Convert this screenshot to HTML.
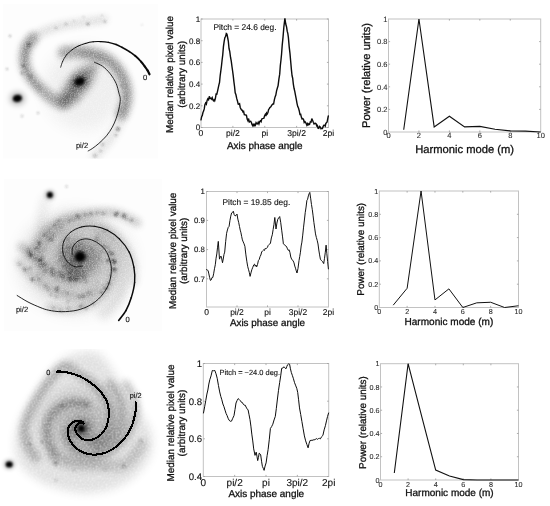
<!DOCTYPE html>
<html lang="en"><head><meta charset="utf-8"><title>Spiral arm pitch analysis</title>
<style>html,body{margin:0;padding:0;background:#fff}svg{display:block}text{font-family:"Liberation Sans", "DejaVu Sans", sans-serif;text-rendering:geometricPrecision;stroke:#151515;stroke-width:.3px;paint-order:stroke fill}text.tick{stroke-width:.12px}text.thin{stroke-width:.08px;fill:#2a2a2a}</style>
</head><body>
<svg width="550" height="506" viewBox="0 0 550 506">
<defs>
<filter id="b05" filterUnits="userSpaceOnUse" x="-20" y="-20" width="200" height="546"><feGaussianBlur stdDeviation="0.5"/></filter>
<filter id="b08" filterUnits="userSpaceOnUse" x="-20" y="-20" width="200" height="546"><feGaussianBlur stdDeviation="0.8"/></filter>
<filter id="b1" filterUnits="userSpaceOnUse" x="-20" y="-20" width="200" height="546"><feGaussianBlur stdDeviation="1"/></filter>
<filter id="b15" filterUnits="userSpaceOnUse" x="-20" y="-20" width="200" height="546"><feGaussianBlur stdDeviation="1.5"/></filter>
<filter id="b2" filterUnits="userSpaceOnUse" x="-20" y="-20" width="200" height="546"><feGaussianBlur stdDeviation="2"/></filter>
<filter id="b3" filterUnits="userSpaceOnUse" x="-20" y="-20" width="200" height="546"><feGaussianBlur stdDeviation="3"/></filter>
<filter id="b4" filterUnits="userSpaceOnUse" x="-20" y="-20" width="200" height="546"><feGaussianBlur stdDeviation="4"/></filter>
<filter id="b5" filterUnits="userSpaceOnUse" x="-20" y="-20" width="200" height="546"><feGaussianBlur stdDeviation="5"/></filter>
<filter id="b6" filterUnits="userSpaceOnUse" x="-20" y="-20" width="200" height="546"><feGaussianBlur stdDeviation="6"/></filter>
<filter id="b8" filterUnits="userSpaceOnUse" x="-20" y="-20" width="200" height="546"><feGaussianBlur stdDeviation="8"/></filter>
<filter id="b10" filterUnits="userSpaceOnUse" x="-20" y="-20" width="200" height="546"><feGaussianBlur stdDeviation="10"/></filter>
<filter id="grain" x="0" y="0" width="165" height="506" filterUnits="userSpaceOnUse"><feTurbulence type="fractalNoise" baseFrequency="0.75" numOctaves="2" seed="4" result="n"/><feColorMatrix in="n" type="matrix" values="0 0 0 0 0 0 0 0 0 0 0 0 0 0 0 0.9 0 0 0 0.45" result="na"/><feComposite in="SourceGraphic" in2="na" operator="in"/></filter>
<filter id="grain3" x="0" y="0" width="165" height="506" filterUnits="userSpaceOnUse"><feTurbulence type="fractalNoise" baseFrequency="0.5" numOctaves="1" seed="9" result="n"/><feColorMatrix in="n" type="matrix" values="0 0 0 0 0 0 0 0 0 0 0 0 0 0 0 0.8 0 0 0 0.5" result="na"/><feComposite in="SourceGraphic" in2="na" operator="in"/></filter>
<clipPath id="c1"><rect x="3" y="4" width="155" height="154.7"/></clipPath>
<clipPath id="c2"><rect x="4" y="179" width="158" height="152.5"/></clipPath>
<clipPath id="c3"><rect x="0" y="349" width="162" height="156"/></clipPath>
</defs>
<rect width="550" height="506" fill="#fff"/>
<g clip-path="url(#c1)">
<rect x="3" y="4" width="155" height="154.7" fill="#000" opacity="0.008"/>
<g filter="url(#grain)">
<ellipse cx="84" cy="88" rx="40" ry="42" fill="#000" filter="url(#b8)" opacity="0.06"/>
<path d="M63.7 104C62.25 103.42 58.12 102.33 55 100.5C51.88 98.67 48.17 95.75 45 93C41.83 90.25 38.83 87.33 36 84C33.17 80.67 29.92 76.67 28 73C26.08 69.33 24.83 66.17 24.5 62C24.17 57.83 24.58 52 26 48C27.42 44 31.83 39.67 33 38" fill="none" stroke="#000" stroke-width="11" stroke-linecap="round" stroke-linejoin="round" filter="url(#b3)" opacity="0.34"/>
<path d="M40 89C38.33 87.17 32.58 82.17 30 78C27.42 73.83 25 69 24.5 64C24 59 26.58 50.67 27 48" fill="none" stroke="#000" stroke-width="5" stroke-linecap="round" stroke-linejoin="round" filter="url(#b2)" opacity="0.16"/>
<path d="M26 48C27.17 46.33 29.83 40.83 33 38C36.17 35.17 40 33.08 45 31C50 28.92 56.17 27 63 25.5C69.83 24 79.17 23 86 22C92.83 21 101 19.92 104 19.5" fill="none" stroke="#000" stroke-width="8" stroke-linecap="round" stroke-linejoin="round" filter="url(#b3)" opacity="0.12"/>
<path d="M63.7 52.5C66.47 52.4 74.37 51.42 80.3 51.9C86.23 52.38 93.53 53.05 99.3 55.4C105.07 57.75 110.68 61.45 114.9 66C119.12 70.55 122.67 77.15 124.6 82.7C126.53 88.25 126.93 94.08 126.5 99.3C126.07 104.52 122.75 111.55 122 114" fill="none" stroke="#000" stroke-width="12" stroke-linecap="round" stroke-linejoin="round" filter="url(#b3)" opacity="0.35"/>
<path d="M99.3 55.4C101.9 57.17 110.68 61.45 114.9 66C119.12 70.55 122.67 77.15 124.6 82.7C126.53 88.25 126.85 94.75 126.5 99.3C126.15 103.85 123.17 108.22 122.5 110" fill="none" stroke="#000" stroke-width="5" stroke-linecap="round" stroke-linejoin="round" filter="url(#b2)" opacity="0.1"/>
<path d="M123 110C122.33 112.33 121 119.5 119 124C117 128.5 113.83 133 111 137C108.17 141 104.67 144.83 102 148C99.33 151.17 96.17 154.67 95 156" fill="none" stroke="#000" stroke-width="10" stroke-linecap="round" stroke-linejoin="round" filter="url(#b3)" opacity="0.09"/>
<path d="M92 70C93 68.67 97.83 64.33 98 62C98.17 59.67 95.67 57.5 93 56C90.33 54.5 83.83 53.5 82 53" fill="none" stroke="#000" stroke-width="7" stroke-linecap="round" stroke-linejoin="round" filter="url(#b3)" opacity="0.15"/>
<ellipse cx="78.5" cy="84" rx="24" ry="10" fill="#000" filter="url(#b4)" opacity="0.42" transform="rotate(-51 78.5 84)"/>
<ellipse cx="68" cy="98" rx="11" ry="7.5" fill="#000" filter="url(#b4)" opacity="0.3" transform="rotate(-25 68 98)"/>
<ellipse cx="79.6" cy="81.6" rx="10" ry="7.5" fill="#000" filter="url(#b3)" opacity="0.42" transform="rotate(-35 79.6 81.6)"/>
<ellipse cx="29" cy="44.5" rx="2.2" ry="2.2" fill="#000" filter="url(#b08)" opacity="0.4"/>
<ellipse cx="23" cy="66" rx="1.8" ry="1.8" fill="#000" filter="url(#b08)" opacity="0.3"/>
<ellipse cx="22" cy="73" rx="1.6" ry="1.6" fill="#000" filter="url(#b08)" opacity="0.3"/>
<ellipse cx="31" cy="76" rx="1.6" ry="1.6" fill="#000" filter="url(#b08)" opacity="0.3"/>
<ellipse cx="88" cy="24" rx="1.6" ry="1.6" fill="#000" filter="url(#b08)" opacity="0.4"/>
<ellipse cx="66" cy="24" rx="1.3" ry="1.3" fill="#000" filter="url(#b08)" opacity="0.3"/>
<ellipse cx="56" cy="28" rx="1.2" ry="1.2" fill="#000" filter="url(#b08)" opacity="0.25"/>
<ellipse cx="105" cy="21.6" rx="1.3" ry="1.3" fill="#000" filter="url(#b08)" opacity="0.3"/>
<ellipse cx="83.5" cy="17" rx="1.1" ry="1.1" fill="#000" filter="url(#b08)" opacity="0.22"/>
<ellipse cx="102" cy="15.5" rx="1" ry="1" fill="#000" filter="url(#b08)" opacity="0.2"/>
<ellipse cx="142" cy="24.7" rx="1" ry="1" fill="#000" filter="url(#b08)" opacity="0.15"/>
<ellipse cx="10" cy="36" rx="1.3" ry="1.3" fill="#000" filter="url(#b08)" opacity="0.3"/>
<ellipse cx="7" cy="69" rx="1.2" ry="1.2" fill="#000" filter="url(#b08)" opacity="0.3"/>
<ellipse cx="118" cy="129" rx="2.2" ry="2.2" fill="#000" filter="url(#b08)" opacity="0.4"/>
<ellipse cx="116" cy="135" rx="1.6" ry="1.6" fill="#000" filter="url(#b08)" opacity="0.25"/>
<ellipse cx="38" cy="113" rx="1.3" ry="1.3" fill="#000" filter="url(#b08)" opacity="0.25"/>
<ellipse cx="22" cy="116" rx="1.5" ry="1.5" fill="#000" filter="url(#b08)" opacity="0.2"/>
<ellipse cx="122" cy="86" rx="1.5" ry="1.5" fill="#000" filter="url(#b08)" opacity="0.2"/>
<ellipse cx="126" cy="97" rx="1.5" ry="1.5" fill="#000" filter="url(#b08)" opacity="0.2"/>
<ellipse cx="102.7" cy="144.4" rx="1.8" ry="1.8" fill="#000" filter="url(#b08)" opacity="0.22"/>
<ellipse cx="100.8" cy="151" rx="1.6" ry="1.6" fill="#000" filter="url(#b08)" opacity="0.2"/>
<ellipse cx="95" cy="155.8" rx="2" ry="2" fill="#000" filter="url(#b08)" opacity="0.22"/>
<ellipse cx="74" cy="21" rx="1" ry="1" fill="#000" filter="url(#b08)" opacity="0.2"/>
</g>
<ellipse cx="79.6" cy="81.4" rx="6" ry="4.3" fill="#000" filter="url(#b15)" opacity="0.55" transform="rotate(-25 79.6 81.4)"/>
<ellipse cx="79.6" cy="81.4" rx="4.2" ry="3" fill="#000" filter="url(#b08)" opacity="1" transform="rotate(-20 79.6 81.4)"/>
<ellipse cx="17.4" cy="98.4" rx="7" ry="6" fill="#000" filter="url(#b3)" opacity="0.35"/>
<ellipse cx="17.4" cy="98.4" rx="4.6" ry="3.6" fill="#000" filter="url(#b08)" opacity="1" transform="rotate(-10 17.4 98.4)"/>
</g>
<path d="M60.7 67.2C61.02 66.25 61.63 63.57 62.6 61.5" fill="none" stroke="#0a0a0a" stroke-width="0.81" stroke-linecap="round"/>
<path d="M62.6 61.5C63.57 59.43 64.9 56.77 66.5 54.8" fill="none" stroke="#0a0a0a" stroke-width="0.83" stroke-linecap="round"/>
<path d="M66.5 54.8C68.1 52.83 70.3 51.13 72.2 49.7" fill="none" stroke="#0a0a0a" stroke-width="0.88" stroke-linecap="round"/>
<path d="M72.2 49.7C74.1 48.27 75.68 47.25 77.9 46.2" fill="none" stroke="#0a0a0a" stroke-width="0.93" stroke-linecap="round"/>
<path d="M77.9 46.2C80.12 45.15 82.95 44.13 85.5 43.4" fill="none" stroke="#0a0a0a" stroke-width="1" stroke-linecap="round"/>
<path d="M85.5 43.4C88.05 42.67 90.65 42.1 93.2 41.8" fill="none" stroke="#0a0a0a" stroke-width="1.07" stroke-linecap="round"/>
<path d="M93.2 41.8C95.75 41.5 98.27 41.5 100.8 41.6" fill="none" stroke="#0a0a0a" stroke-width="1.15" stroke-linecap="round"/>
<path d="M100.8 41.6C103.33 41.7 105.85 41.92 108.4 42.4" fill="none" stroke="#0a0a0a" stroke-width="1.25" stroke-linecap="round"/>
<path d="M108.4 42.4C110.95 42.88 113.87 43.7 116.1 44.5" fill="none" stroke="#0a0a0a" stroke-width="1.35" stroke-linecap="round"/>
<path d="M116.1 44.5C118.33 45.3 119.58 46.02 121.8 47.2" fill="none" stroke="#0a0a0a" stroke-width="1.45" stroke-linecap="round"/>
<path d="M121.8 47.2C124.02 48.38 127.17 50.17 129.4 51.6" fill="none" stroke="#0a0a0a" stroke-width="1.56" stroke-linecap="round"/>
<path d="M129.4 51.6C131.63 53.03 133.28 54.15 135.2 55.8" fill="none" stroke="#0a0a0a" stroke-width="1.68" stroke-linecap="round"/>
<path d="M135.2 55.8C137.12 57.45 139.32 59.75 140.9 61.5" fill="none" stroke="#0a0a0a" stroke-width="1.81" stroke-linecap="round"/>
<path d="M140.9 61.5C142.48 63.25 143.58 64.8 144.7 66.3" fill="none" stroke="#0a0a0a" stroke-width="1.94" stroke-linecap="round"/>
<path d="M144.7 66.3C145.82 67.8 146.8 69.17 147.6 70.5" fill="none" stroke="#0a0a0a" stroke-width="2.08" stroke-linecap="round"/>
<path d="M147.6 70.5C148.4 71.83 149.18 73.67 149.5 74.3" fill="none" stroke="#0a0a0a" stroke-width="2.23" stroke-linecap="round"/>
<path d="M94.1 62.1C95.53 62.8 100 64.33 102.7 66.3C105.4 68.27 108.07 71.05 110.3 73.9C112.53 76.75 114.67 80.22 116.1 83.4C117.53 86.58 118.2 90.32 118.9 93C119.6 95.68 120.3 96.82 120.3 99.5C120.3 102.18 119.6 105.92 118.9 109.1C118.2 112.28 117.2 115.58 116.1 118.6C115 121.62 113.9 124.33 112.3 127.2C110.7 130.07 108.73 133.1 106.5 135.8C104.27 138.5 101.28 141.27 98.9 143.4C96.52 145.53 94.05 147.32 92.2 148.6C90.35 149.88 88.53 150.68 87.8 151.1" fill="none" stroke="#141414" stroke-width="0.9" stroke-linecap="butt"/>
<text x="145.2" y="80.2" font-size="7.6" text-anchor="middle" fill="#101010" class="tick">0</text>
<text x="82" y="147.8" font-size="7.6" text-anchor="middle" fill="#101010" class="tick">pi/2</text>
<g clip-path="url(#c2)">
<rect x="4" y="179" width="158" height="152.5" fill="#000" opacity="0.007"/>
<g filter="url(#grain)">
<ellipse cx="76" cy="262" rx="58" ry="52" fill="#000" filter="url(#b8)" opacity="0.09"/>
<ellipse cx="75" cy="257" rx="46" ry="44" fill="#000" filter="url(#b6)" opacity="0.11"/>
<ellipse cx="43.18" cy="275.94" rx="1.96" ry="1.8" fill="#000" filter="url(#b1)" opacity="0.12" transform="rotate(121 43.18 275.94)"/>
<ellipse cx="102.32" cy="261.05" rx="1.81" ry="1.5" fill="#000" filter="url(#b1)" opacity="0.08" transform="rotate(94 102.32 261.05)"/>
<ellipse cx="113.82" cy="253.97" rx="1.37" ry="1.39" fill="#000" filter="url(#b1)" opacity="0.24" transform="rotate(10 113.82 253.97)"/>
<ellipse cx="68.19" cy="301.61" rx="2.12" ry="1.9" fill="#000" filter="url(#b1)" opacity="0.16" transform="rotate(84 68.19 301.61)"/>
<ellipse cx="77.69" cy="276.29" rx="1.98" ry="2.13" fill="#000" filter="url(#b1)" opacity="0.08" transform="rotate(22 77.69 276.29)"/>
<ellipse cx="69.69" cy="264.37" rx="1.61" ry="1.48" fill="#000" filter="url(#b1)" opacity="0.11" transform="rotate(9 69.69 264.37)"/>
<ellipse cx="71.23" cy="286.89" rx="1.29" ry="1.06" fill="#000" filter="url(#b1)" opacity="0.19" transform="rotate(168 71.23 286.89)"/>
<ellipse cx="97.44" cy="282.07" rx="1.9" ry="1.91" fill="#000" filter="url(#b1)" opacity="0.1" transform="rotate(121 97.44 282.07)"/>
<ellipse cx="79.42" cy="250.59" rx="1.61" ry="1.29" fill="#000" filter="url(#b1)" opacity="0.17" transform="rotate(74 79.42 250.59)"/>
<ellipse cx="61.6" cy="255.91" rx="1.66" ry="1.83" fill="#000" filter="url(#b1)" opacity="0.15" transform="rotate(6 61.6 255.91)"/>
<ellipse cx="104.74" cy="231.35" rx="2.06" ry="2.25" fill="#000" filter="url(#b1)" opacity="0.08" transform="rotate(17 104.74 231.35)"/>
<ellipse cx="78.64" cy="280.85" rx="1.47" ry="1.41" fill="#000" filter="url(#b1)" opacity="0.17" transform="rotate(159 78.64 280.85)"/>
<ellipse cx="38.37" cy="274.25" rx="1.95" ry="2.03" fill="#000" filter="url(#b1)" opacity="0.14" transform="rotate(152 38.37 274.25)"/>
<ellipse cx="113.53" cy="238.64" rx="1.4" ry="1.5" fill="#000" filter="url(#b1)" opacity="0.11" transform="rotate(109 113.53 238.64)"/>
<ellipse cx="62.49" cy="275.4" rx="2.01" ry="2.14" fill="#000" filter="url(#b1)" opacity="0.24" transform="rotate(104 62.49 275.4)"/>
<ellipse cx="59.89" cy="260.52" rx="2" ry="2.16" fill="#000" filter="url(#b1)" opacity="0.12" transform="rotate(143 59.89 260.52)"/>
<ellipse cx="99.2" cy="258.59" rx="2.2" ry="1.69" fill="#000" filter="url(#b1)" opacity="0.12" transform="rotate(74 99.2 258.59)"/>
<ellipse cx="64.3" cy="291.11" rx="1.97" ry="1.58" fill="#000" filter="url(#b1)" opacity="0.11" transform="rotate(122 64.3 291.11)"/>
<ellipse cx="87.82" cy="294.56" rx="1.77" ry="1.92" fill="#000" filter="url(#b1)" opacity="0.23" transform="rotate(93 87.82 294.56)"/>
<ellipse cx="101.16" cy="292.04" rx="1.92" ry="1.73" fill="#000" filter="url(#b1)" opacity="0.18" transform="rotate(122 101.16 292.04)"/>
<ellipse cx="56.33" cy="262.88" rx="1.53" ry="1.56" fill="#000" filter="url(#b1)" opacity="0.08" transform="rotate(32 56.33 262.88)"/>
<ellipse cx="82.62" cy="272.08" rx="2.22" ry="2.12" fill="#000" filter="url(#b1)" opacity="0.12" transform="rotate(103 82.62 272.08)"/>
<ellipse cx="97.15" cy="286.22" rx="1.37" ry="1.09" fill="#000" filter="url(#b1)" opacity="0.15" transform="rotate(47 97.15 286.22)"/>
<ellipse cx="30.33" cy="255.54" rx="1.37" ry="1.44" fill="#000" filter="url(#b1)" opacity="0.19" transform="rotate(32 30.33 255.54)"/>
<ellipse cx="55.97" cy="297.14" rx="1.68" ry="1.78" fill="#000" filter="url(#b1)" opacity="0.19" transform="rotate(46 55.97 297.14)"/>
<ellipse cx="44.92" cy="249.74" rx="2.05" ry="1.93" fill="#000" filter="url(#b1)" opacity="0.09" transform="rotate(129 44.92 249.74)"/>
<ellipse cx="108.4" cy="283.04" rx="2.15" ry="1.62" fill="#000" filter="url(#b1)" opacity="0.16" transform="rotate(16 108.4 283.04)"/>
<ellipse cx="64.61" cy="265.62" rx="2.23" ry="1.85" fill="#000" filter="url(#b1)" opacity="0.24" transform="rotate(154 64.61 265.62)"/>
<ellipse cx="56.85" cy="221.52" rx="1.67" ry="1.43" fill="#000" filter="url(#b1)" opacity="0.23" transform="rotate(75 56.85 221.52)"/>
<ellipse cx="103.22" cy="285.46" rx="1.79" ry="1.7" fill="#000" filter="url(#b1)" opacity="0.17" transform="rotate(15 103.22 285.46)"/>
<ellipse cx="74.76" cy="279.7" rx="2.36" ry="2.03" fill="#000" filter="url(#b1)" opacity="0.2" transform="rotate(134 74.76 279.7)"/>
<ellipse cx="97.72" cy="233.92" rx="1.94" ry="1.68" fill="#000" filter="url(#b1)" opacity="0.11" transform="rotate(16 97.72 233.92)"/>
<ellipse cx="97.91" cy="255.64" rx="1.95" ry="1.47" fill="#000" filter="url(#b1)" opacity="0.19" transform="rotate(113 97.91 255.64)"/>
<ellipse cx="71.32" cy="261.09" rx="2.25" ry="1.74" fill="#000" filter="url(#b1)" opacity="0.08" transform="rotate(169 71.32 261.09)"/>
<ellipse cx="67.92" cy="238.75" rx="2.05" ry="2.12" fill="#000" filter="url(#b1)" opacity="0.2" transform="rotate(116 67.92 238.75)"/>
<ellipse cx="101.38" cy="251.51" rx="1.59" ry="1.32" fill="#000" filter="url(#b1)" opacity="0.24" transform="rotate(167 101.38 251.51)"/>
<ellipse cx="35.86" cy="258.3" rx="1.79" ry="1.79" fill="#000" filter="url(#b1)" opacity="0.23" transform="rotate(115 35.86 258.3)"/>
<ellipse cx="85.67" cy="281.72" rx="2" ry="2.1" fill="#000" filter="url(#b1)" opacity="0.2" transform="rotate(67 85.67 281.72)"/>
<ellipse cx="50.57" cy="295" rx="1.66" ry="1.61" fill="#000" filter="url(#b1)" opacity="0.22" transform="rotate(1 50.57 295)"/>
<ellipse cx="42.89" cy="234.97" rx="2.25" ry="2.25" fill="#000" filter="url(#b1)" opacity="0.1" transform="rotate(44 42.89 234.97)"/>
<ellipse cx="68.9" cy="247.38" rx="1.85" ry="1.61" fill="#000" filter="url(#b1)" opacity="0.33" transform="rotate(59 68.9 247.38)"/>
<ellipse cx="80.66" cy="264.53" rx="1.63" ry="1.73" fill="#000" filter="url(#b1)" opacity="0.27" transform="rotate(5 80.66 264.53)"/>
<ellipse cx="81.87" cy="252.7" rx="1.39" ry="1.46" fill="#000" filter="url(#b1)" opacity="0.27" transform="rotate(144 81.87 252.7)"/>
<ellipse cx="64.96" cy="253.14" rx="1.53" ry="1.25" fill="#000" filter="url(#b1)" opacity="0.23" transform="rotate(166 64.96 253.14)"/>
<ellipse cx="79.49" cy="251.83" rx="1.47" ry="1.46" fill="#000" filter="url(#b1)" opacity="0.24" transform="rotate(87 79.49 251.83)"/>
<ellipse cx="80.02" cy="244.9" rx="2.13" ry="1.97" fill="#000" filter="url(#b1)" opacity="0.25" transform="rotate(104 80.02 244.9)"/>
<ellipse cx="75.71" cy="269.89" rx="1.38" ry="1.31" fill="#000" filter="url(#b1)" opacity="0.23" transform="rotate(6 75.71 269.89)"/>
<ellipse cx="72.51" cy="260.68" rx="1.74" ry="1.57" fill="#000" filter="url(#b1)" opacity="0.28" transform="rotate(135 72.51 260.68)"/>
<ellipse cx="76.67" cy="246.54" rx="1.64" ry="1.29" fill="#000" filter="url(#b1)" opacity="0.31" transform="rotate(14 76.67 246.54)"/>
<ellipse cx="79.38" cy="255.22" rx="1.3" ry="1.38" fill="#000" filter="url(#b1)" opacity="0.18" transform="rotate(139 79.38 255.22)"/>
<ellipse cx="75.04" cy="249.01" rx="2.11" ry="2.05" fill="#000" filter="url(#b1)" opacity="0.24" transform="rotate(16 75.04 249.01)"/>
<ellipse cx="80.13" cy="266.29" rx="1.85" ry="1.52" fill="#000" filter="url(#b1)" opacity="0.29" transform="rotate(13 80.13 266.29)"/>
<ellipse cx="79" cy="258" rx="20" ry="18" fill="#000" filter="url(#b4)" opacity="0.3"/>
<ellipse cx="77" cy="260" rx="30" ry="27" fill="#000" filter="url(#b5)" opacity="0.1"/>
<ellipse cx="73" cy="271" rx="10" ry="7" fill="#000" filter="url(#b3)" opacity="0.26" transform="rotate(30 73 271)"/>
<path d="M137.2 223C135.93 222.28 133.05 220.33 129.6 218.7C126.15 217.07 121.58 214.28 116.5 213.2C111.42 212.12 104.9 211.83 99.1 212.2C93.3 212.57 87.13 214.13 81.7 215.4C76.27 216.67 70.7 218.25 66.5 219.8C62.3 221.35 59.97 222.62 56.5 224.7C53.03 226.78 48.95 229.22 45.7 232.3C42.45 235.38 39.55 239.57 37 243.2C34.45 246.83 31.5 252.28 30.4 254.1" fill="none" stroke="#000" stroke-width="8" stroke-linecap="round" stroke-linejoin="round" filter="url(#b3)" opacity="0.22"/>
<ellipse cx="131.35" cy="220.34" rx="1.91" ry="1.82" fill="#000" filter="url(#b1)" opacity="0.3" transform="rotate(47 131.35 220.34)"/>
<ellipse cx="126.54" cy="218.82" rx="1.54" ry="1.23" fill="#000" filter="url(#b1)" opacity="0.29" transform="rotate(137 126.54 218.82)"/>
<ellipse cx="123.98" cy="215.93" rx="2.58" ry="2.52" fill="#000" filter="url(#b1)" opacity="0.41" transform="rotate(157 123.98 215.93)"/>
<ellipse cx="117.7" cy="212.35" rx="1.38" ry="1.46" fill="#000" filter="url(#b1)" opacity="0.19" transform="rotate(153 117.7 212.35)"/>
<ellipse cx="116.42" cy="214.4" rx="2.4" ry="2.33" fill="#000" filter="url(#b1)" opacity="0.3" transform="rotate(127 116.42 214.4)"/>
<ellipse cx="115.66" cy="214.36" rx="1.83" ry="1.97" fill="#000" filter="url(#b1)" opacity="0.31" transform="rotate(21 115.66 214.36)"/>
<ellipse cx="104.03" cy="213.71" rx="1.68" ry="1.71" fill="#000" filter="url(#b1)" opacity="0.2" transform="rotate(102 104.03 213.71)"/>
<ellipse cx="102.3" cy="213.04" rx="1.32" ry="1.09" fill="#000" filter="url(#b1)" opacity="0.34" transform="rotate(13 102.3 213.04)"/>
<ellipse cx="97.24" cy="212.65" rx="1.39" ry="1.43" fill="#000" filter="url(#b1)" opacity="0.33" transform="rotate(69 97.24 212.65)"/>
<ellipse cx="90.89" cy="213.98" rx="1.83" ry="1.46" fill="#000" filter="url(#b1)" opacity="0.4" transform="rotate(25 90.89 213.98)"/>
<ellipse cx="85.53" cy="214.78" rx="2.19" ry="2.03" fill="#000" filter="url(#b1)" opacity="0.23" transform="rotate(33 85.53 214.78)"/>
<ellipse cx="79.04" cy="216.99" rx="2.59" ry="2.72" fill="#000" filter="url(#b1)" opacity="0.18" transform="rotate(151 79.04 216.99)"/>
<ellipse cx="76.88" cy="216.24" rx="1.81" ry="1.77" fill="#000" filter="url(#b1)" opacity="0.39" transform="rotate(25 76.88 216.24)"/>
<ellipse cx="73.44" cy="219.68" rx="1.31" ry="1.37" fill="#000" filter="url(#b1)" opacity="0.33" transform="rotate(98 73.44 219.68)"/>
<ellipse cx="69.12" cy="220.9" rx="1.62" ry="1.42" fill="#000" filter="url(#b1)" opacity="0.32" transform="rotate(116 69.12 220.9)"/>
<ellipse cx="59.24" cy="220.16" rx="1.48" ry="1.43" fill="#000" filter="url(#b1)" opacity="0.27" transform="rotate(79 59.24 220.16)"/>
<ellipse cx="54.62" cy="225.18" rx="1.55" ry="1.67" fill="#000" filter="url(#b1)" opacity="0.36" transform="rotate(50 54.62 225.18)"/>
<ellipse cx="49.17" cy="230.08" rx="1.4" ry="1.11" fill="#000" filter="url(#b1)" opacity="0.19" transform="rotate(131 49.17 230.08)"/>
<ellipse cx="45.61" cy="235.47" rx="1.63" ry="1.57" fill="#000" filter="url(#b1)" opacity="0.38" transform="rotate(75 45.61 235.47)"/>
<ellipse cx="48.06" cy="232.81" rx="1.46" ry="1.43" fill="#000" filter="url(#b1)" opacity="0.3" transform="rotate(157 48.06 232.81)"/>
<ellipse cx="39.29" cy="243.33" rx="1.57" ry="1.32" fill="#000" filter="url(#b1)" opacity="0.18" transform="rotate(114 39.29 243.33)"/>
<ellipse cx="39.39" cy="242.39" rx="1.99" ry="1.56" fill="#000" filter="url(#b1)" opacity="0.41" transform="rotate(35 39.39 242.39)"/>
<ellipse cx="36" cy="248.84" rx="2.2" ry="1.76" fill="#000" filter="url(#b1)" opacity="0.32" transform="rotate(8 36 248.84)"/>
<ellipse cx="28.93" cy="254.03" rx="1.71" ry="1.64" fill="#000" filter="url(#b1)" opacity="0.19" transform="rotate(19 28.93 254.03)"/>
<path d="M63 228C61.2 229.45 55.45 233.43 52.2 236.7C48.95 239.97 45.68 243.62 43.5 247.6C41.32 251.58 39.1 256.62 39.1 260.6C39.1 264.58 42.77 269.68 43.5 271.5" fill="none" stroke="#000" stroke-width="7" stroke-linecap="round" stroke-linejoin="round" filter="url(#b3)" opacity="0.18"/>
<ellipse cx="59.74" cy="227.21" rx="1.47" ry="1.3" fill="#000" filter="url(#b1)" opacity="0.18" transform="rotate(70 59.74 227.21)"/>
<ellipse cx="53.31" cy="233.88" rx="1.57" ry="1.52" fill="#000" filter="url(#b1)" opacity="0.18" transform="rotate(112 53.31 233.88)"/>
<ellipse cx="53.41" cy="236.24" rx="1.99" ry="1.85" fill="#000" filter="url(#b1)" opacity="0.22" transform="rotate(86 53.41 236.24)"/>
<ellipse cx="49.95" cy="239.07" rx="2.4" ry="2.36" fill="#000" filter="url(#b1)" opacity="0.36" transform="rotate(57 49.95 239.07)"/>
<ellipse cx="52.83" cy="241" rx="1.44" ry="1.14" fill="#000" filter="url(#b1)" opacity="0.27" transform="rotate(80 52.83 241)"/>
<ellipse cx="38.69" cy="246.49" rx="2.36" ry="2.19" fill="#000" filter="url(#b1)" opacity="0.3" transform="rotate(21 38.69 246.49)"/>
<ellipse cx="40.36" cy="251.81" rx="1.87" ry="1.42" fill="#000" filter="url(#b1)" opacity="0.26" transform="rotate(21 40.36 251.81)"/>
<ellipse cx="42.67" cy="257.42" rx="1.73" ry="1.71" fill="#000" filter="url(#b1)" opacity="0.26" transform="rotate(79 42.67 257.42)"/>
<ellipse cx="39.98" cy="260.19" rx="1.91" ry="1.77" fill="#000" filter="url(#b1)" opacity="0.36" transform="rotate(7 39.98 260.19)"/>
<ellipse cx="40.86" cy="263.87" rx="1.33" ry="1.02" fill="#000" filter="url(#b1)" opacity="0.33" transform="rotate(52 40.86 263.87)"/>
<ellipse cx="44.9" cy="271.84" rx="1.51" ry="1.15" fill="#000" filter="url(#b1)" opacity="0.33" transform="rotate(70 44.9 271.84)"/>
<path d="M74.8 266.7C73.53 265.87 69.2 264.15 67.2 261.7C65.2 259.25 63.35 255.43 62.8 252C62.25 248.57 62.63 244.37 63.9 241.1C65.17 237.83 67.5 234.75 70.4 232.4C73.3 230.05 77.32 228.02 81.3 227C85.28 225.98 89.95 225.77 94.3 226.3C98.65 226.83 103.23 228.1 107.4 230.2C111.57 232.3 115.68 235.27 119.3 238.9C122.92 242.53 126.67 247.28 129.1 252C131.53 256.72 132.98 262.13 133.9 267.2C134.82 272.27 134.48 279.87 134.6 282.4" fill="none" stroke="#000" stroke-width="6" stroke-linecap="round" stroke-linejoin="round" filter="url(#b3)" opacity="0.13"/>
<path d="M96.5 240C97.95 241.3 102.78 244.97 105.2 247.8C107.62 250.63 109.65 253.63 111 257C112.35 260.37 113.38 263.83 113.3 268C113.22 272.17 112.23 277.58 110.5 282C108.77 286.42 105.98 290.97 102.9 294.5C99.82 298.03 95.98 300.92 92 303.2C88.02 305.48 83.72 307.12 79 308.2C74.28 309.28 68.75 309.87 63.7 309.7C58.65 309.53 51.2 307.62 48.7 307.2" fill="none" stroke="#000" stroke-width="7" stroke-linecap="round" stroke-linejoin="round" filter="url(#b3)" opacity="0.18"/>
<ellipse cx="96.7" cy="238.89" rx="2.23" ry="1.86" fill="#000" filter="url(#b1)" opacity="0.27" transform="rotate(37 96.7 238.89)"/>
<ellipse cx="103.82" cy="246.36" rx="1.38" ry="1.39" fill="#000" filter="url(#b1)" opacity="0.44" transform="rotate(7 103.82 246.36)"/>
<ellipse cx="107.44" cy="247.89" rx="1.32" ry="1.05" fill="#000" filter="url(#b1)" opacity="0.29" transform="rotate(67 107.44 247.89)"/>
<ellipse cx="110.48" cy="252.71" rx="2.17" ry="2.28" fill="#000" filter="url(#b1)" opacity="0.29" transform="rotate(124 110.48 252.71)"/>
<ellipse cx="108.07" cy="260.95" rx="2.04" ry="1.98" fill="#000" filter="url(#b1)" opacity="0.45" transform="rotate(167 108.07 260.95)"/>
<ellipse cx="113.49" cy="261.04" rx="2.38" ry="2.25" fill="#000" filter="url(#b1)" opacity="0.4" transform="rotate(34 113.49 261.04)"/>
<ellipse cx="112.48" cy="269.02" rx="1.62" ry="1.42" fill="#000" filter="url(#b1)" opacity="0.27" transform="rotate(95 112.48 269.02)"/>
<ellipse cx="110.4" cy="275.63" rx="1.44" ry="1.2" fill="#000" filter="url(#b1)" opacity="0.35" transform="rotate(60 110.4 275.63)"/>
<ellipse cx="108.92" cy="283.45" rx="1.77" ry="1.62" fill="#000" filter="url(#b1)" opacity="0.38"/>
<ellipse cx="107.1" cy="288.08" rx="1.46" ry="1.52" fill="#000" filter="url(#b1)" opacity="0.43" transform="rotate(163 107.1 288.08)"/>
<ellipse cx="104.85" cy="288.43" rx="1.58" ry="1.38" fill="#000" filter="url(#b1)" opacity="0.42" transform="rotate(161 104.85 288.43)"/>
<ellipse cx="101.5" cy="292.15" rx="2.33" ry="1.96" fill="#000" filter="url(#b1)" opacity="0.16" transform="rotate(18 101.5 292.15)"/>
<ellipse cx="93.49" cy="304.09" rx="1.74" ry="1.37" fill="#000" filter="url(#b1)" opacity="0.24" transform="rotate(57 93.49 304.09)"/>
<ellipse cx="86.16" cy="308.21" rx="1.7" ry="1.58" fill="#000" filter="url(#b1)" opacity="0.22" transform="rotate(41 86.16 308.21)"/>
<ellipse cx="82.87" cy="305.44" rx="2.02" ry="1.75" fill="#000" filter="url(#b1)" opacity="0.14" transform="rotate(21 82.87 305.44)"/>
<ellipse cx="80.3" cy="306.6" rx="1.94" ry="2.07" fill="#000" filter="url(#b1)" opacity="0.27" transform="rotate(24 80.3 306.6)"/>
<ellipse cx="68.41" cy="308.3" rx="1.95" ry="1.58" fill="#000" filter="url(#b1)" opacity="0.22" transform="rotate(24 68.41 308.3)"/>
<ellipse cx="60.16" cy="309.86" rx="1.6" ry="1.47" fill="#000" filter="url(#b1)" opacity="0.22" transform="rotate(72 60.16 309.86)"/>
<ellipse cx="61.26" cy="311.02" rx="1.4" ry="1.06" fill="#000" filter="url(#b1)" opacity="0.16" transform="rotate(105 61.26 311.02)"/>
<ellipse cx="53.51" cy="308" rx="1.83" ry="1.71" fill="#000" filter="url(#b1)" opacity="0.23" transform="rotate(116 53.51 308)"/>
<path d="M21.7 246.7C24.6 249.25 33.3 257.28 39.1 262C44.9 266.72 51.07 272.12 56.5 275C61.93 277.88 67.35 279.3 71.7 279.3C76.05 279.3 80.78 275.72 82.6 275" fill="none" stroke="#000" stroke-width="8" stroke-linecap="round" stroke-linejoin="round" filter="url(#b3)" opacity="0.24"/>
<ellipse cx="28.13" cy="249.99" rx="1.51" ry="1.14" fill="#000" filter="url(#b1)" opacity="0.45" transform="rotate(37 28.13 249.99)"/>
<ellipse cx="29.77" cy="252.62" rx="1.74" ry="1.48" fill="#000" filter="url(#b1)" opacity="0.38" transform="rotate(67 29.77 252.62)"/>
<ellipse cx="31.32" cy="253.69" rx="1.76" ry="1.51" fill="#000" filter="url(#b1)" opacity="0.28" transform="rotate(130 31.32 253.69)"/>
<ellipse cx="31.05" cy="255.99" rx="1.94" ry="1.99" fill="#000" filter="url(#b1)" opacity="0.32" transform="rotate(112 31.05 255.99)"/>
<ellipse cx="40.61" cy="260.16" rx="1.83" ry="2.01" fill="#000" filter="url(#b1)" opacity="0.42" transform="rotate(125 40.61 260.16)"/>
<ellipse cx="44.21" cy="264.34" rx="1.99" ry="2.04" fill="#000" filter="url(#b1)" opacity="0.35" transform="rotate(4 44.21 264.34)"/>
<ellipse cx="41.09" cy="266.41" rx="1.43" ry="1.1" fill="#000" filter="url(#b1)" opacity="0.23" transform="rotate(119 41.09 266.41)"/>
<ellipse cx="51.74" cy="269.74" rx="2.5" ry="2.35" fill="#000" filter="url(#b1)" opacity="0.26" transform="rotate(128 51.74 269.74)"/>
<ellipse cx="52.99" cy="273.81" rx="2.37" ry="2.53" fill="#000" filter="url(#b1)" opacity="0.28" transform="rotate(86 52.99 273.81)"/>
<ellipse cx="59.75" cy="272.78" rx="2.39" ry="1.91" fill="#000" filter="url(#b1)" opacity="0.27" transform="rotate(126 59.75 272.78)"/>
<ellipse cx="62.95" cy="276.57" rx="2.56" ry="1.98" fill="#000" filter="url(#b1)" opacity="0.22" transform="rotate(115 62.95 276.57)"/>
<ellipse cx="69.54" cy="278.05" rx="1.95" ry="2.13" fill="#000" filter="url(#b1)" opacity="0.32" transform="rotate(11 69.54 278.05)"/>
<ellipse cx="70.63" cy="279.32" rx="2.55" ry="2.58" fill="#000" filter="url(#b1)" opacity="0.26" transform="rotate(114 70.63 279.32)"/>
<ellipse cx="76.7" cy="278.07" rx="1.31" ry="1.28" fill="#000" filter="url(#b1)" opacity="0.28" transform="rotate(97 76.7 278.07)"/>
<ellipse cx="84.01" cy="277.45" rx="1.69" ry="1.59" fill="#000" filter="url(#b1)" opacity="0.31" transform="rotate(7 84.01 277.45)"/>
<path d="M19.6 262C21.77 264.53 27.53 272.87 32.6 277.2C37.67 281.53 44.57 285.1 50 288C55.43 290.9 59.77 293.15 65.2 294.6C70.63 296.05 77.52 297.43 82.6 296.7C87.68 295.97 93.52 291.28 95.7 290.2" fill="none" stroke="#000" stroke-width="8" stroke-linecap="round" stroke-linejoin="round" filter="url(#b3)" opacity="0.16"/>
<ellipse cx="19.04" cy="264" rx="1.84" ry="1.8" fill="#000" filter="url(#b1)" opacity="0.24" transform="rotate(66 19.04 264)"/>
<ellipse cx="25.02" cy="269.65" rx="2.28" ry="2.47" fill="#000" filter="url(#b1)" opacity="0.29" transform="rotate(154 25.02 269.65)"/>
<ellipse cx="30.39" cy="268.33" rx="1.6" ry="1.66" fill="#000" filter="url(#b1)" opacity="0.34" transform="rotate(170 30.39 268.33)"/>
<ellipse cx="32.63" cy="279.45" rx="2.14" ry="2.2" fill="#000" filter="url(#b1)" opacity="0.36" transform="rotate(92 32.63 279.45)"/>
<ellipse cx="39.09" cy="279.16" rx="1.81" ry="1.96" fill="#000" filter="url(#b1)" opacity="0.29" transform="rotate(75 39.09 279.16)"/>
<ellipse cx="45.64" cy="286.22" rx="2.5" ry="2.2" fill="#000" filter="url(#b1)" opacity="0.15" transform="rotate(125 45.64 286.22)"/>
<ellipse cx="48.18" cy="289.43" rx="1.38" ry="1.39" fill="#000" filter="url(#b1)" opacity="0.3" transform="rotate(3 48.18 289.43)"/>
<ellipse cx="56.6" cy="290.52" rx="2.31" ry="1.83" fill="#000" filter="url(#b1)" opacity="0.3" transform="rotate(156 56.6 290.52)"/>
<ellipse cx="57.11" cy="288.05" rx="2.15" ry="2.29" fill="#000" filter="url(#b1)" opacity="0.34" transform="rotate(8 57.11 288.05)"/>
<ellipse cx="67.81" cy="293.34" rx="1.68" ry="1.82" fill="#000" filter="url(#b1)" opacity="0.26" transform="rotate(167 67.81 293.34)"/>
<ellipse cx="78.65" cy="296.79" rx="2.15" ry="1.79" fill="#000" filter="url(#b1)" opacity="0.26" transform="rotate(100 78.65 296.79)"/>
<ellipse cx="82.96" cy="296.16" rx="2.12" ry="2.16" fill="#000" filter="url(#b1)" opacity="0.35" transform="rotate(39 82.96 296.16)"/>
<ellipse cx="88.91" cy="291.93" rx="2" ry="1.67" fill="#000" filter="url(#b1)" opacity="0.2" transform="rotate(29 88.91 291.93)"/>
<ellipse cx="91.78" cy="294.32" rx="1.35" ry="1.35" fill="#000" filter="url(#b1)" opacity="0.25" transform="rotate(117 91.78 294.32)"/>
<path d="M100 232C102 233.33 108.5 236.67 112 240C115.5 243.33 118.83 247.33 121 252C123.17 256.67 124.67 262.33 125 268C125.33 273.67 124.67 280.33 123 286C121.33 291.67 118.17 297.33 115 302C111.83 306.67 105.83 312 104 314" fill="none" stroke="#000" stroke-width="12" stroke-linecap="round" stroke-linejoin="round" filter="url(#b4)" opacity="0.1"/>
<path d="M42 232C41.83 230 40.75 224.33 41 220C41.25 215.67 42.67 209.67 43.5 206C44.33 202.33 45.58 199.33 46 198" fill="none" stroke="#000" stroke-width="8" stroke-linecap="round" stroke-linejoin="round" filter="url(#b4)" opacity="0.08"/>
<ellipse cx="66.5" cy="186.5" rx="1.3" ry="1.3" fill="#000" filter="url(#b08)" opacity="0.25"/>
<ellipse cx="114.2" cy="262" rx="2.2" ry="2.2" fill="#000" filter="url(#b08)" opacity="0.45"/>
<ellipse cx="114.5" cy="269.6" rx="2.2" ry="2.2" fill="#000" filter="url(#b08)" opacity="0.5"/>
<ellipse cx="112" cy="254" rx="1.8" ry="1.8" fill="#000" filter="url(#b08)" opacity="0.3"/>
<ellipse cx="72" cy="257" rx="1.8" ry="1.8" fill="#000" filter="url(#b08)" opacity="0.3"/>
<ellipse cx="70.5" cy="273" rx="2.4" ry="2.4" fill="#000" filter="url(#b08)" opacity="0.3"/>
<ellipse cx="75" cy="279" rx="2" ry="2" fill="#000" filter="url(#b08)" opacity="0.25"/>
<ellipse cx="88" cy="258" rx="1.5" ry="1.5" fill="#000" filter="url(#b08)" opacity="0.25"/>
<ellipse cx="92" cy="250" rx="1.4" ry="1.4" fill="#000" filter="url(#b08)" opacity="0.2"/>
</g>
<ellipse cx="80" cy="256.8" rx="6.8" ry="6.4" fill="#000" filter="url(#b15)" opacity="0.6"/>
<ellipse cx="80" cy="256.8" rx="4.5" ry="4.3" fill="#000" filter="url(#b08)" opacity="1"/>
<ellipse cx="49.9" cy="194.9" rx="4.5" ry="4.5" fill="#000" filter="url(#b2)" opacity="0.35"/>
<ellipse cx="49.9" cy="194.9" rx="2.9" ry="2.9" fill="#000" filter="url(#b08)" opacity="1"/>
</g>
<path d="M82.4 266.1C81.13 266.2 77.33 267.43 74.8 266.7" fill="none" stroke="#0a0a0a" stroke-width="0.8" stroke-linecap="round"/>
<path d="M74.8 266.7C72.27 265.97 69.2 264.15 67.2 261.7" fill="none" stroke="#0a0a0a" stroke-width="0.82" stroke-linecap="round"/>
<path d="M67.2 261.7C65.2 259.25 63.35 255.43 62.8 252" fill="none" stroke="#0a0a0a" stroke-width="0.85" stroke-linecap="round"/>
<path d="M62.8 252C62.25 248.57 62.63 244.37 63.9 241.1" fill="none" stroke="#0a0a0a" stroke-width="0.89" stroke-linecap="round"/>
<path d="M63.9 241.1C65.17 237.83 67.5 234.75 70.4 232.4" fill="none" stroke="#0a0a0a" stroke-width="0.93" stroke-linecap="round"/>
<path d="M70.4 232.4C73.3 230.05 77.32 228.02 81.3 227" fill="none" stroke="#0a0a0a" stroke-width="0.98" stroke-linecap="round"/>
<path d="M81.3 227C85.28 225.98 89.95 225.77 94.3 226.3" fill="none" stroke="#0a0a0a" stroke-width="1.04" stroke-linecap="round"/>
<path d="M94.3 226.3C98.65 226.83 103.23 228.1 107.4 230.2" fill="none" stroke="#0a0a0a" stroke-width="1.1" stroke-linecap="round"/>
<path d="M107.4 230.2C111.57 232.3 115.68 235.27 119.3 238.9" fill="none" stroke="#0a0a0a" stroke-width="1.16" stroke-linecap="round"/>
<path d="M119.3 238.9C122.92 242.53 126.67 247.28 129.1 252" fill="none" stroke="#0a0a0a" stroke-width="1.23" stroke-linecap="round"/>
<path d="M129.1 252C131.53 256.72 132.98 262.13 133.9 267.2" fill="none" stroke="#0a0a0a" stroke-width="1.31" stroke-linecap="round"/>
<path d="M133.9 267.2C134.82 272.27 135.03 277.33 134.6 282.4" fill="none" stroke="#0a0a0a" stroke-width="1.39" stroke-linecap="round"/>
<path d="M134.6 282.4C134.17 287.47 132.75 292.88 131.3 297.6" fill="none" stroke="#0a0a0a" stroke-width="1.47" stroke-linecap="round"/>
<path d="M131.3 297.6C129.85 302.32 128 306.9 125.9 310.7" fill="none" stroke="#0a0a0a" stroke-width="1.56" stroke-linecap="round"/>
<path d="M125.9 310.7C123.8 314.5 119.9 318.78 118.7 320.4" fill="none" stroke="#0a0a0a" stroke-width="1.65" stroke-linecap="round"/>
<path d="M72.2 255.2C72.27 253.93 71.63 249.95 72.6 247.6C73.57 245.25 75.65 242.55 78 241.1C80.35 239.65 83.62 238.72 86.7 238.9C89.78 239.08 93.42 240.38 96.5 242.2C99.58 244.02 102.95 246.72 105.2 249.8C107.45 252.88 108.98 257.08 110 260.7C111.02 264.32 111.55 267.52 111.3 271.5C111.05 275.48 110.23 280.43 108.5 284.6C106.77 288.77 103.98 293.07 100.9 296.5C97.82 299.93 93.98 302.92 90 305.2C86.02 307.48 81.72 309.12 77 310.2C72.28 311.28 66.42 311.7 61.7 311.7C56.98 311.7 52.32 310.92 48.7 310.2C45.08 309.48 43.45 308.77 40 307.4C36.55 306.03 31.87 304.02 28 302C24.13 299.98 18.67 296.42 16.8 295.3" fill="none" stroke="#0a0a0a" stroke-width="0.9" stroke-linecap="butt"/>
<text x="127.5" y="321.5" font-size="7.6" text-anchor="middle" fill="#101010" class="tick">0</text>
<text x="22" y="311.5" font-size="7.6" text-anchor="middle" fill="#101010" class="tick">pi/2</text>
<g clip-path="url(#c3)">
<g filter="url(#grain3)">
<path d="M80 352.5C82.17 352.33 89 350.58 93 351.5C97 352.42 99.5 352.92 104 358C108.5 363.08 114.5 373.67 120 382C125.5 390.33 131.83 399.67 137 408C142.17 416.33 148.83 424 151 432C153.17 440 152.67 448.67 150 456C147.33 463.33 141.33 470.5 135 476C128.67 481.5 120.33 486.17 112 489C103.67 491.83 93.67 493 85 493C76.33 493 67.83 491.17 60 489C52.17 486.83 44.83 484.33 38 480C31.17 475.67 22.83 469.67 19 463C15.17 456.33 14.5 448 15 440C15.5 432 18.5 423 22 415C25.5 407 31 399.67 36 392C41 384.33 47 374.83 52 369C57 363.17 61.33 359.75 66 357C70.67 354.25 77.67 353.25 80 352.5Z" fill="#000" opacity="0.12" filter="url(#b5)"/>
<ellipse cx="81" cy="428" rx="44" ry="42" fill="#000" filter="url(#b6)" opacity="0.1"/>
<ellipse cx="81" cy="428" rx="26" ry="25" fill="#000" filter="url(#b5)" opacity="0.13"/>
<ellipse cx="81" cy="428" rx="12" ry="11" fill="#000" filter="url(#b3)" opacity="0.28"/>
<path d="M88.9 441.5C90.52 441.3 95.62 441.58 98.6 440.3C101.58 439.02 104.73 436.68 106.8 433.8C108.87 430.92 110.3 426.42 111 423C111.7 419.58 111.62 416.9 111 413.3C110.38 409.7 109.2 405.28 107.3 401.4C105.4 397.52 102.52 393.43 99.6 390C96.68 386.57 93.4 383.47 89.8 380.8C86.2 378.13 82.13 376.47 78 374C73.87 371.53 69.67 365 65 366C60.33 367 55 374 50 380C45 386 39.17 394.33 35 402C30.83 409.67 26.33 419 25 426C23.67 433 25.17 438.67 27 444C28.83 449.33 34.5 455.67 36 458" fill="none" stroke="#000" stroke-width="9" stroke-linecap="round" stroke-linejoin="round" filter="url(#b3)" opacity="0.26"/>
<path d="M67.8 430.7C67.88 432.13 67.32 436.42 68.3 439.3C69.28 442.18 71.35 445.63 73.7 448C76.05 450.37 79.13 452.3 82.4 453.5C85.67 454.7 89.5 455.38 93.3 455.2C97.1 455.02 101.4 453.95 105.2 452.4C109 450.85 112.65 448.62 116.1 445.9C119.55 443.18 123.18 439.73 125.9 436.1C128.62 432.47 130.77 428.08 132.4 424.1C134.03 420.12 135.43 416.55 135.7 412.2C135.97 407.85 135.62 402.7 134 398C132.38 393.3 127.33 386.33 126 384" fill="none" stroke="#000" stroke-width="8" stroke-linecap="round" stroke-linejoin="round" filter="url(#b3)" opacity="0.24"/>
<path d="M96 448C98.33 446.83 106 444.33 110 441C114 437.67 117.83 432.83 120 428C122.17 423.17 123.17 417.33 123 412C122.83 406.67 121.17 400.67 119 396C116.83 391.33 111.5 386 110 384" fill="none" stroke="#000" stroke-width="9" stroke-linecap="round" stroke-linejoin="round" filter="url(#b3)" opacity="0.25"/>
<path d="M87 404.3C84.45 403.95 76.42 401.65 71.7 402.2C66.98 402.75 62.32 405.07 58.7 407.6C55.08 410.13 52 413.6 50 417.4C48 421.2 46.88 426.05 46.7 430.4C46.52 434.75 47.63 439.52 48.9 443.5C50.17 447.48 53.4 452.5 54.3 454.3" fill="none" stroke="#000" stroke-width="8" stroke-linecap="round" stroke-linejoin="round" filter="url(#b3)" opacity="0.33"/>
<path d="M55 458C58.62 458.73 69.45 461.3 76.7 462.4C83.95 463.5 90.52 464.23 98.5 464.6C106.48 464.97 117.35 468.03 124.6 464.6C131.85 461.17 139.1 447.43 142 444" fill="none" stroke="#000" stroke-width="9" stroke-linecap="round" stroke-linejoin="round" filter="url(#b4)" opacity="0.21"/>
<ellipse cx="55.6" cy="463.5" rx="2.2" ry="2.2" fill="#000" filter="url(#b1)" opacity="0.3"/>
<ellipse cx="30" cy="444" rx="1.8" ry="1.8" fill="#000" filter="url(#b1)" opacity="0.2"/>
<ellipse cx="42" cy="442" rx="1.8" ry="1.8" fill="#000" filter="url(#b1)" opacity="0.2"/>
<ellipse cx="62" cy="406" rx="1.8" ry="1.8" fill="#000" filter="url(#b1)" opacity="0.25"/>
<ellipse cx="124" cy="466" rx="2.2" ry="2.2" fill="#000" filter="url(#b1)" opacity="0.22"/>
<ellipse cx="141" cy="441" rx="2" ry="2" fill="#000" filter="url(#b1)" opacity="0.2"/>
<ellipse cx="105" cy="470" rx="1.8" ry="1.8" fill="#000" filter="url(#b1)" opacity="0.15"/>
<ellipse cx="87" cy="405" rx="1.5" ry="1.5" fill="#000" filter="url(#b1)" opacity="0.2"/>
<ellipse cx="98" cy="408" rx="1.5" ry="1.5" fill="#000" filter="url(#b1)" opacity="0.15"/>
<ellipse cx="56" cy="480" rx="1.6" ry="1.6" fill="#000" filter="url(#b1)" opacity="0.18"/>
<ellipse cx="30" cy="438" rx="1.6" ry="1.6" fill="#000" filter="url(#b1)" opacity="0.15"/>
<ellipse cx="74" cy="470" rx="1.6" ry="1.6" fill="#000" filter="url(#b1)" opacity="0.15"/>
</g>
<ellipse cx="81.3" cy="428.5" rx="6" ry="6" fill="#000" filter="url(#b2)" opacity="0.5"/>
<ellipse cx="81.3" cy="428.5" rx="2.9" ry="3" fill="#000" filter="url(#b1)" opacity="1"/>
<ellipse cx="9.2" cy="464.4" rx="5" ry="4.5" fill="#000" filter="url(#b2)" opacity="0.35"/>
<ellipse cx="9.2" cy="464.4" rx="3.4" ry="2.9" fill="#000" filter="url(#b08)" opacity="1"/>
</g>
<path d="M56 371.6C57 371.6 59.67 371.37 62 371.6C64.33 371.83 67 372.2 70 373C73 373.8 77 375.07 80 376.4C83 377.73 85.67 379.5 88 381C90.33 382.5 92 383.73 94 385.4C96 387.07 98.33 389.17 100 391C101.67 392.83 102.83 394.65 104 396.4C105.17 398.15 106.22 399.28 107 401.5C107.78 403.72 108.42 407.1 108.7 409.7C108.98 412.3 109.05 414.37 108.7 417.1C108.35 419.83 107.78 423.28 106.6 426.1C105.42 428.92 103.78 431.82 101.6 434C99.42 436.18 96.22 438.2 93.5 439.2C90.78 440.2 87.77 440.55 85.3 440C82.83 439.45 80.33 437.53 78.7 435.9C77.07 434.27 75.9 431.97 75.5 430.2C75.1 428.43 75.48 426.53 76.3 425.3C77.12 424.07 79.03 423 80.4 422.8C81.77 422.6 83.82 423.88 84.5 424.1" fill="none" stroke="#000" stroke-width="2.1" stroke-linecap="butt" shape-rendering="crispEdges"/>
<path d="M136 401.5C135.92 403.15 136.05 407.72 135.5 411.4C134.95 415.08 134.12 419.65 132.7 423.6C131.28 427.55 129.45 431.47 127 435.1C124.55 438.73 121.55 442.48 118 445.4C114.45 448.32 109.78 451.05 105.7 452.6C101.62 454.15 97.45 454.8 93.5 454.7C89.55 454.6 85.42 453.63 82 452C78.58 450.37 75.32 447.63 73 444.9C70.68 442.17 68.87 438.52 68.1 435.6C67.33 432.68 67.58 429.67 68.4 427.4C69.22 425.13 71.15 423.08 73 422C74.85 420.92 77.65 420.82 79.5 420.9C81.35 420.98 83.33 422.23 84.1 422.5" fill="none" stroke="#000" stroke-width="2.1" stroke-linecap="butt" shape-rendering="crispEdges"/>
<text x="48.4" y="375.2" font-size="7.4" text-anchor="middle" fill="#101010" class="tick">0</text>
<text x="135.6" y="397.6" font-size="7.4" text-anchor="middle" fill="#101010" class="tick">pi/2</text>
<rect x="201" y="19" width="127.5" height="108.5" fill="none" stroke="#c2c2c2" stroke-width="1"/>
<path d="M232.88 127.5v-1.6M232.88 19v1.6M264.75 127.5v-1.6M264.75 19v1.6M296.62 127.5v-1.6M296.62 19v1.6M201 127.5h1.6M328.5 127.5h-1.6M201 105.8h1.6M328.5 105.8h-1.6M201 84.1h1.6M328.5 84.1h-1.6M201 62.4h1.6M328.5 62.4h-1.6M201 40.7h1.6M328.5 40.7h-1.6M201 19h1.6M328.5 19h-1.6" stroke="#9a9a9a" stroke-width="0.8" fill="none"/>
<path d="M201 119.8L201.65 116.64L202.3 115.42L202.95 112.56L203.6 111.09L204.25 108.89L204.9 104.72L205.63 102.91L206.37 104.08L207.1 100.48L207.83 98.76L208.57 99.72L209.3 96.3L210.15 98.49L211 98.22L211.6 99.11L212.2 97.78L212.8 99.76L213.43 100.78L214.07 99.85L214.7 100.82L215.4 98.33L216.1 94.02L216.8 94.13L217.5 91.31L218.2 88.07L218.9 84.91L219.54 82.3L220.18 75.53L220.82 70.92L221.46 66.03L222.1 60.03L222.77 54.57L223.43 46.61L224.1 41.82L224.83 37.75L225.57 36.55L226.3 33.49L226.97 34.1L227.63 37.5L228.3 41.04L229.04 48.52L229.78 51.66L230.52 57.25L231.26 61.08L232 66.72L232.64 71.25L233.28 76.07L233.92 81.81L234.56 86.75L235.2 92.77L235.95 94.79L236.7 98.41L237.45 100.94L238.2 104.17L238.88 104.32L239.56 103.82L240.23 107.43L240.91 109.01L241.59 110.04L242.27 110.13L242.94 111.86L243.62 111.38L244.3 114.73L245.01 114.91L245.73 114.98L246.44 115.29L247.16 119.03L247.87 120.55L248.59 118.54L249.3 122.02L250 121.41L250.7 121.24L251.4 122.44L252.1 124.77L252.8 125.84L253.5 123.74L254.2 126.39L254.82 123.53L255.45 124.89L256.07 122.65L256.7 123.6L257.44 123.93L258.18 122.32L258.92 123.99L259.66 121.65L260.4 120.86L261.1 121.74L261.8 118.91L262.5 118.57L263.2 118.39L263.9 118.18L264.6 115.73L265.3 114.44L265.96 116.04L266.61 112.94L267.27 113.92L267.93 112.49L268.59 109.51L269.24 108.58L269.9 107.57L270.64 106.99L271.38 105.83L272.12 104.7L272.86 103.91L273.6 104L274.34 99.82L275.08 96.87L275.82 95.15L276.56 90.81L277.3 88.32L278.1 85.62L278.9 79.07L279.7 74.16L280.32 65.59L280.95 60.21L281.57 54.02L282.2 45.37L283.05 36.89L283.9 26.45L284.9 18.4L285.75 24.03L286.6 27.19L287.2 31.14L287.8 33.27L288.4 37.7L289.2 46.91L290 53.58L290.8 62.81L291.43 69.82L292.05 75.73L292.68 78.23L293.3 83.85L294.04 88.28L294.78 91.31L295.52 95.42L296.26 99.2L297 103.36L297.74 106.57L298.48 108L299.22 110.7L299.96 114.49L300.7 114.39L301.4 117.31L302.1 118.94L302.8 118.57L303.5 119.34L304.2 122.39L304.9 121.54L305.6 122.44L306.23 123.78L306.85 125.17L307.48 123.65L308.1 124.89L308.84 123.79L309.58 124.35L310.32 121.87L311.06 122.15L311.8 118.68L312.55 120.17L313.3 122.16L314.05 123.88L314.8 123.33L315.44 123.31L316.08 123.69L316.72 125.82L317.36 125.41L318 128.24L318.74 128.49L319.48 126.4L320.22 126.87L320.96 128.8L321.7 128.38L322.43 128.47L323.15 126.42L323.88 125.22L324.6 125.29L325.23 126.07L325.85 123.37L326.48 122.7L327.1 122.02L327.7 118.88L328.3 116" fill="none" stroke="#0c0c0c" stroke-width="1.4" stroke-linejoin="miter" stroke-miterlimit="3" stroke-linecap="round"/>
<text x="201" y="135.8" font-size="8.6" text-anchor="middle" fill="#101010" class="tick">0</text>
<text x="232.88" y="135.8" font-size="8.6" text-anchor="middle" fill="#101010" class="tick">pi/2</text>
<text x="264.75" y="135.8" font-size="8.6" text-anchor="middle" fill="#101010" class="tick">pi</text>
<text x="296.62" y="135.8" font-size="8.6" text-anchor="middle" fill="#101010" class="tick">3pi/2</text>
<text x="328.5" y="135.8" font-size="8.6" text-anchor="middle" fill="#101010" class="tick">2pi</text>
<text x="200.2" y="130.38" font-size="8.0" text-anchor="end" fill="#101010" class="tick">0</text>
<text x="200.2" y="108.68" font-size="8.0" text-anchor="end" fill="#101010" class="tick">0.2</text>
<text x="200.2" y="86.98" font-size="8.0" text-anchor="end" fill="#101010" class="tick">0.4</text>
<text x="200.2" y="65.28" font-size="8.0" text-anchor="end" fill="#101010" class="tick">0.6</text>
<text x="200.2" y="43.58" font-size="8.0" text-anchor="end" fill="#101010" class="tick">0.8</text>
<text x="200.2" y="21.88" font-size="8.0" text-anchor="end" fill="#101010" class="tick">1</text>
<text x="264.75" y="149.2" font-size="9.95" text-anchor="middle" fill="#101010">Axis phase angle</text>
<text x="173.2" y="74.45" font-size="9.95" text-anchor="middle" fill="#101010" transform="rotate(-90 173.2 74.45)">Median relative pixel value</text>
<text x="185.2" y="74.45" font-size="9.95" text-anchor="middle" fill="#101010" transform="rotate(-90 185.2 74.45)">(arbitrary units)</text>
<text x="213.4" y="29.5" font-size="8.4" text-anchor="start" fill="#101010" class="tick">Pitch = 24.6 deg.</text>
<rect x="388.5" y="19" width="152.2" height="113" fill="none" stroke="#c2c2c2" stroke-width="1"/>
<path d="M418.94 132v-1.6M418.94 19v1.6M449.38 132v-1.6M449.38 19v1.6M479.82 132v-1.6M479.82 19v1.6M510.26 132v-1.6M510.26 19v1.6M388.5 109.4h1.6M540.7 109.4h-1.6M388.5 86.8h1.6M540.7 86.8h-1.6M388.5 64.2h1.6M540.7 64.2h-1.6M388.5 41.6h1.6M540.7 41.6h-1.6" stroke="#9a9a9a" stroke-width="0.8" fill="none"/>
<path d="M403.72 129.74L418.94 19L434.16 126.92L449.38 116.18L464.6 126.92L479.82 126.35L495.04 129.18L510.26 130.87L525.48 131.1L540.7 132" fill="none" stroke="#111" stroke-width="1.1" stroke-linejoin="miter" stroke-linecap="butt"/>
<text x="388.5" y="138.3" font-size="7.5" text-anchor="middle" fill="#101010" class="thin">0</text>
<text x="418.94" y="138.3" font-size="7.5" text-anchor="middle" fill="#101010" class="thin">2</text>
<text x="449.38" y="138.3" font-size="7.5" text-anchor="middle" fill="#101010" class="thin">4</text>
<text x="479.82" y="138.3" font-size="7.5" text-anchor="middle" fill="#101010" class="thin">6</text>
<text x="510.26" y="138.3" font-size="7.5" text-anchor="middle" fill="#101010" class="thin">8</text>
<text x="540.7" y="138.3" font-size="7.5" text-anchor="middle" fill="#101010" class="thin">10</text>
<text x="387.5" y="134.7" font-size="7.5" text-anchor="end" fill="#101010" class="thin">0</text>
<text x="387.5" y="112.1" font-size="7.5" text-anchor="end" fill="#101010" class="thin">0.2</text>
<text x="387.5" y="89.5" font-size="7.5" text-anchor="end" fill="#101010" class="thin">0.4</text>
<text x="387.5" y="66.9" font-size="7.5" text-anchor="end" fill="#101010" class="thin">0.6</text>
<text x="387.5" y="44.3" font-size="7.5" text-anchor="end" fill="#101010" class="thin">0.8</text>
<text x="387.5" y="21.7" font-size="7.5" text-anchor="end" fill="#101010" class="thin">1</text>
<text x="464.6" y="153" font-size="11.2" text-anchor="middle" fill="#101010">Harmonic mode (m)</text>
<text x="370" y="75.5" font-size="11.2" text-anchor="middle" fill="#101010" transform="rotate(-90 370 75.5)">Power (relative units)</text>
<rect x="206.5" y="191.5" width="122" height="115.5" fill="none" stroke="#c2c2c2" stroke-width="1"/>
<path d="M237 307v-1.6M237 191.5v1.6M267.5 307v-1.6M267.5 191.5v1.6M298 307v-1.6M298 191.5v1.6M206.5 191.5h1.6M328.5 191.5h-1.6M206.5 220.4h1.6M328.5 220.4h-1.6M206.5 249.6h1.6M328.5 249.6h-1.6M206.5 278.8h1.6M328.5 278.8h-1.6" stroke="#9a9a9a" stroke-width="0.8" fill="none"/>
<path d="M206.5 269.6L207.3 270.07L208.1 270.54L208.87 273.93L209.63 277.5L210.4 280.43L211.2 279.93L212 277.49L212.8 277.44L213.63 273.8L214.47 268.77L215.3 264.72L216.05 258.3L216.8 253.94L217.55 247.19L218.3 241.38L219.5 259.13L220.25 256.92L221 256.09L221.75 258.9L222.5 262.75L223.23 259.01L223.97 254.45L224.7 252.13L225.65 241.7L226.6 233.31L227.43 229.96L228.27 227.27L229.1 226.37L229.93 220.64L230.77 216.12L231.6 212.97L232.45 212.52L233.3 211.22L234.15 214.53L235 215.87L236 215.52L237 214.07L237.83 219.09L238.67 222.34L239.5 226.54L240.22 230.11L240.95 232.74L241.68 236.55L242.4 239.9L243.23 241.93L244.07 243.85L244.9 246.34L245.9 254.89L246.9 261.81L247.75 266.72L248.6 269.81L249.35 272.61L250.1 276.37L250.95 272.92L251.8 269.77L252.8 267.22L253.8 264.77L254.53 264.1L255.25 266.26L255.97 265.04L256.7 266.85L257.53 264.55L258.37 260.6L259.2 259.52L260.03 256.69L260.87 255.01L261.7 251.92L262.7 250.78L263.7 249.83L264.44 250.48L265.18 248.37L265.92 248.64L266.66 248.21L267.4 247.5L268.15 245.49L268.9 244.59L269.65 243.97L270.4 243.5L271.35 237.94L272.3 234.75L273.13 229.5L273.97 224.28L274.8 217.47L276 229L276.9 223.11L277.8 219.21L278.75 217.85L279.7 216.55L280.7 222.31L281.7 230.16L282.55 236.88L283.4 243.86L284.23 244.7L285.07 245.29L285.9 245.94L286.7 246.99L287.5 248.89L288.3 250.37L289.1 249.79L289.93 252.45L290.77 257.01L291.6 259.06L292.4 260.06L293.2 260.99L294 262.87L294.75 266.06L295.5 268.17L296.25 270.88L297 273L298 268.4L299 260.66L299.73 256.54L300.45 252.21L301.17 245.99L301.9 242.12L302.73 235.11L303.57 227.13L304.4 220.02L305.23 212.63L306.07 207.05L306.9 200.37L307.62 199.25L308.35 195.88L309.07 193.79L309.8 192.4L310.63 198.2L311.47 204.49L312.3 209.62L313.1 215.83L313.9 222.41L314.7 228.11L315.5 233.92L316.33 237.43L317.17 240.26L318 243.98L318.8 250.01L319.6 254.89L320.4 259.23L321.22 260.25L322.05 261.21L322.88 262.01L323.7 263.59L324.5 258.31L325.3 252.26L326.1 245.15L326.87 253.75L327.63 261.56L328.4 268.9" fill="none" stroke="#0c0c0c" stroke-width="0.98" stroke-linejoin="miter" stroke-miterlimit="3" stroke-linecap="round"/>
<text x="206.5" y="314.5" font-size="8.5" text-anchor="middle" fill="#101010" class="tick">0</text>
<text x="237" y="314.5" font-size="8.5" text-anchor="middle" fill="#101010" class="tick">pi/2</text>
<text x="267.5" y="314.5" font-size="8.5" text-anchor="middle" fill="#101010" class="tick">pi</text>
<text x="298" y="314.5" font-size="8.5" text-anchor="middle" fill="#101010" class="tick">3pi/2</text>
<text x="328.5" y="314.5" font-size="8.5" text-anchor="middle" fill="#101010" class="tick">2pi</text>
<text x="204.8" y="194.31" font-size="7.8" text-anchor="end" fill="#101010" class="tick">1</text>
<text x="204.8" y="223.21" font-size="7.8" text-anchor="end" fill="#101010" class="tick">0.9</text>
<text x="204.8" y="252.41" font-size="7.8" text-anchor="end" fill="#101010" class="tick">0.8</text>
<text x="204.8" y="281.61" font-size="7.8" text-anchor="end" fill="#101010" class="tick">0.7</text>
<text x="267.5" y="325.6" font-size="9.9" text-anchor="middle" fill="#101010">Axis phase angle</text>
<text x="176" y="250.85" font-size="9.9" text-anchor="middle" fill="#101010" transform="rotate(-90 176 250.85)">Median relative pixel value</text>
<text x="187.5" y="250.85" font-size="9.9" text-anchor="middle" fill="#101010" transform="rotate(-90 187.5 250.85)">(arbitrary units)</text>
<text x="222.5" y="204.5" font-size="8.4" text-anchor="start" fill="#101010" class="tick">Pitch = 19.85 deg.</text>
<rect x="379.3" y="191" width="139.2" height="116.5" fill="none" stroke="#c2c2c2" stroke-width="1"/>
<path d="M407.14 307.5v-1.6M407.14 191v1.6M434.98 307.5v-1.6M434.98 191v1.6M462.82 307.5v-1.6M462.82 191v1.6M490.66 307.5v-1.6M490.66 191v1.6M379.3 284.2h1.6M518.5 284.2h-1.6M379.3 260.9h1.6M518.5 260.9h-1.6M379.3 237.6h1.6M518.5 237.6h-1.6M379.3 214.3h1.6M518.5 214.3h-1.6" stroke="#9a9a9a" stroke-width="0.8" fill="none"/>
<path d="M393.22 305.17L407.14 288.28L421.06 191L434.98 299.93L448.9 288.86L462.82 307.5L476.74 302.84L490.66 302.26L504.58 307.5L518.5 305.75" fill="none" stroke="#111" stroke-width="1.0" stroke-linejoin="miter" stroke-linecap="butt"/>
<text x="379.3" y="314" font-size="7.2" text-anchor="middle" fill="#101010" class="thin">0</text>
<text x="407.14" y="314" font-size="7.2" text-anchor="middle" fill="#101010" class="thin">2</text>
<text x="434.98" y="314" font-size="7.2" text-anchor="middle" fill="#101010" class="thin">4</text>
<text x="462.82" y="314" font-size="7.2" text-anchor="middle" fill="#101010" class="thin">6</text>
<text x="490.66" y="314" font-size="7.2" text-anchor="middle" fill="#101010" class="thin">8</text>
<text x="518.5" y="314" font-size="7.2" text-anchor="middle" fill="#101010" class="thin">10</text>
<text x="378.3" y="310.09" font-size="7.2" text-anchor="end" fill="#101010" class="thin">0</text>
<text x="378.3" y="286.79" font-size="7.2" text-anchor="end" fill="#101010" class="thin">0.2</text>
<text x="378.3" y="263.49" font-size="7.2" text-anchor="end" fill="#101010" class="thin">0.4</text>
<text x="378.3" y="240.19" font-size="7.2" text-anchor="end" fill="#101010" class="thin">0.6</text>
<text x="378.3" y="216.89" font-size="7.2" text-anchor="end" fill="#101010" class="thin">0.8</text>
<text x="378.3" y="193.59" font-size="7.2" text-anchor="end" fill="#101010" class="thin">1</text>
<text x="448.9" y="324.6" font-size="10.05" text-anchor="middle" fill="#101010">Harmonic mode (m)</text>
<text x="364" y="249.25" font-size="9.9" text-anchor="middle" fill="#101010" transform="rotate(-90 364 249.25)">Power (relative units)</text>
<rect x="203.3" y="363.5" width="125.4" height="113" fill="none" stroke="#c2c2c2" stroke-width="1"/>
<path d="M234.65 476.5v-1.6M234.65 363.5v1.6M266 476.5v-1.6M266 363.5v1.6M297.35 476.5v-1.6M297.35 363.5v1.6M203.3 363.5h1.6M328.7 363.5h-1.6M203.3 401.2h1.6M328.7 401.2h-1.6M203.3 438.8h1.6M328.7 438.8h-1.6M203.3 476.5h1.6M328.7 476.5h-1.6" stroke="#9a9a9a" stroke-width="0.8" fill="none"/>
<path d="M203.5 413L204.63 406.79L205.77 400.51L206.9 394.07L207.87 390.01L208.83 384.04L209.8 379.7L211.05 375.83L212.3 370.5L213.55 370.72L214.8 370.44L216 373.8L217.2 378.25L218.45 385.44L219.7 391.94L220.77 396.37L221.83 399.79L222.9 403.99L223.97 406.73L225.03 410.11L226.1 413.51L227.1 415.58L228.1 418.26L229.1 420.26L230.3 421.3L231.5 421.12L232.75 418.25L234 415.61L235 409.52L236 403.01L237.1 400.51L238.2 398.62L239.27 399.55L240.33 400.64L241.4 402.27L242.32 402.46L243.25 404.21L244.18 405.13L245.1 405.07L246.1 407.09L247.1 408.86L248.1 409.93L249.05 414.76L250 419.69L250.9 426.13L251.8 434.12L252.75 440.95L253.7 448.89L255 455.37L256.2 452.14L256.95 456.21L257.7 460.6L258.45 457.45L259.2 453.12L259.95 453.8L260.7 454.9L261.55 461.21L262.4 466.4L263.25 468.23L264.1 470.37L265.1 466.01L266.1 462.9L267.1 455.76L268.1 449.63L269.25 439.8L270.4 428.47L271.6 426.62L272.8 424.23L274.05 419.98L275.3 416.42L276.3 408.64L277.3 400L278.5 390.3L279.7 382.35L280.7 375.89L281.7 368.28L282.8 368.08L283.9 366.75L284.9 367.79L285.9 368.81L286.75 366.61L287.6 364.73L288.6 363.9L289.6 364.22L290.45 368.79L291.3 372.4L292.3 375.29L293.3 378.28L294.55 382.68L295.8 385.89L296.75 388.32L297.7 392.36L298.6 399.79L299.5 407.92L300.7 414.46L301.9 421.53L303.15 428.79L304.4 435.91L305.65 440.86L306.9 444.52L308.1 447.84L309.1 443.23L310.1 440.44L311.07 440.47L312.03 440.1L313 440.35L313.93 439.5L314.85 439.79L315.77 439.11L316.7 438.58L317.62 439.33L318.55 438.53L319.47 438.37L320.4 438.83L321.65 436.64L322.9 435.4L324.15 429.86L325.4 425.71L326.47 420.91L327.53 416.56L328.6 413" fill="none" stroke="#0c0c0c" stroke-width="1.0" stroke-linejoin="miter" stroke-miterlimit="3" stroke-linecap="round"/>
<text x="203.3" y="486.4" font-size="10.0" text-anchor="middle" fill="#101010" class="tick">0</text>
<text x="234.65" y="486.4" font-size="10.0" text-anchor="middle" fill="#101010" class="tick">pi/2</text>
<text x="266" y="486.4" font-size="10.0" text-anchor="middle" fill="#101010" class="tick">pi</text>
<text x="297.35" y="486.4" font-size="10.0" text-anchor="middle" fill="#101010" class="tick">3pi/2</text>
<text x="328.7" y="486.4" font-size="10.0" text-anchor="middle" fill="#101010" class="tick">2pi</text>
<text x="202.1" y="366.96" font-size="9.6" text-anchor="end" fill="#101010" class="tick">1</text>
<text x="202.1" y="404.66" font-size="9.6" text-anchor="end" fill="#101010" class="tick">0.8</text>
<text x="202.1" y="442.26" font-size="9.6" text-anchor="end" fill="#101010" class="tick">0.6</text>
<text x="202.1" y="479.96" font-size="9.6" text-anchor="end" fill="#101010" class="tick">0.4</text>
<text x="266.3" y="497.4" font-size="9.95" text-anchor="middle" fill="#101010">Axis phase angle</text>
<text x="173.6" y="423" font-size="9.95" text-anchor="middle" fill="#101010" transform="rotate(-90 173.6 423)">Median relative pixel value</text>
<text x="184.6" y="423" font-size="9.95" text-anchor="middle" fill="#101010" transform="rotate(-90 184.6 423)">(arbitrary units)</text>
<text x="219.6" y="374.7" font-size="7.45" text-anchor="start" fill="#101010" class="tick">Pitch = −24.0 deg.</text>
<rect x="380.5" y="363.7" width="138" height="116.3" fill="none" stroke="#c2c2c2" stroke-width="1"/>
<path d="M408.1 480v-1.6M408.1 363.7v1.6M435.7 480v-1.6M435.7 363.7v1.6M463.3 480v-1.6M463.3 363.7v1.6M490.9 480v-1.6M490.9 363.7v1.6M380.5 456.74h1.6M518.5 456.74h-1.6M380.5 433.48h1.6M518.5 433.48h-1.6M380.5 410.22h1.6M518.5 410.22h-1.6M380.5 386.96h1.6M518.5 386.96h-1.6" stroke="#9a9a9a" stroke-width="0.8" fill="none"/>
<path d="M394.3 473.02L408.1 363.7L421.9 417.2L435.7 470.11L449.5 475.93L463.3 479.65L477.1 480L490.9 480L504.7 480L518.5 480" fill="none" stroke="#111" stroke-width="1.1" stroke-linejoin="miter" stroke-linecap="butt"/>
<text x="380.5" y="486.5" font-size="7.2" text-anchor="middle" fill="#101010" class="thin">0</text>
<text x="408.1" y="486.5" font-size="7.2" text-anchor="middle" fill="#101010" class="thin">2</text>
<text x="435.7" y="486.5" font-size="7.2" text-anchor="middle" fill="#101010" class="thin">4</text>
<text x="463.3" y="486.5" font-size="7.2" text-anchor="middle" fill="#101010" class="thin">6</text>
<text x="490.9" y="486.5" font-size="7.2" text-anchor="middle" fill="#101010" class="thin">8</text>
<text x="518.5" y="486.5" font-size="7.2" text-anchor="middle" fill="#101010" class="thin">10</text>
<text x="379.5" y="482.59" font-size="7.2" text-anchor="end" fill="#101010" class="thin">0</text>
<text x="379.5" y="459.33" font-size="7.2" text-anchor="end" fill="#101010" class="thin">0.2</text>
<text x="379.5" y="436.07" font-size="7.2" text-anchor="end" fill="#101010" class="thin">0.4</text>
<text x="379.5" y="412.81" font-size="7.2" text-anchor="end" fill="#101010" class="thin">0.6</text>
<text x="379.5" y="389.55" font-size="7.2" text-anchor="end" fill="#101010" class="thin">0.8</text>
<text x="379.5" y="366.29" font-size="7.2" text-anchor="end" fill="#101010" class="thin">1</text>
<text x="449.5" y="496.3" font-size="10.0" text-anchor="middle" fill="#101010">Harmonic mode (m)</text>
<text x="366.3" y="422.55" font-size="9.9" text-anchor="middle" fill="#101010" transform="rotate(-90 366.3 422.55)">Power (relative units)</text>
</svg>
</body></html>
